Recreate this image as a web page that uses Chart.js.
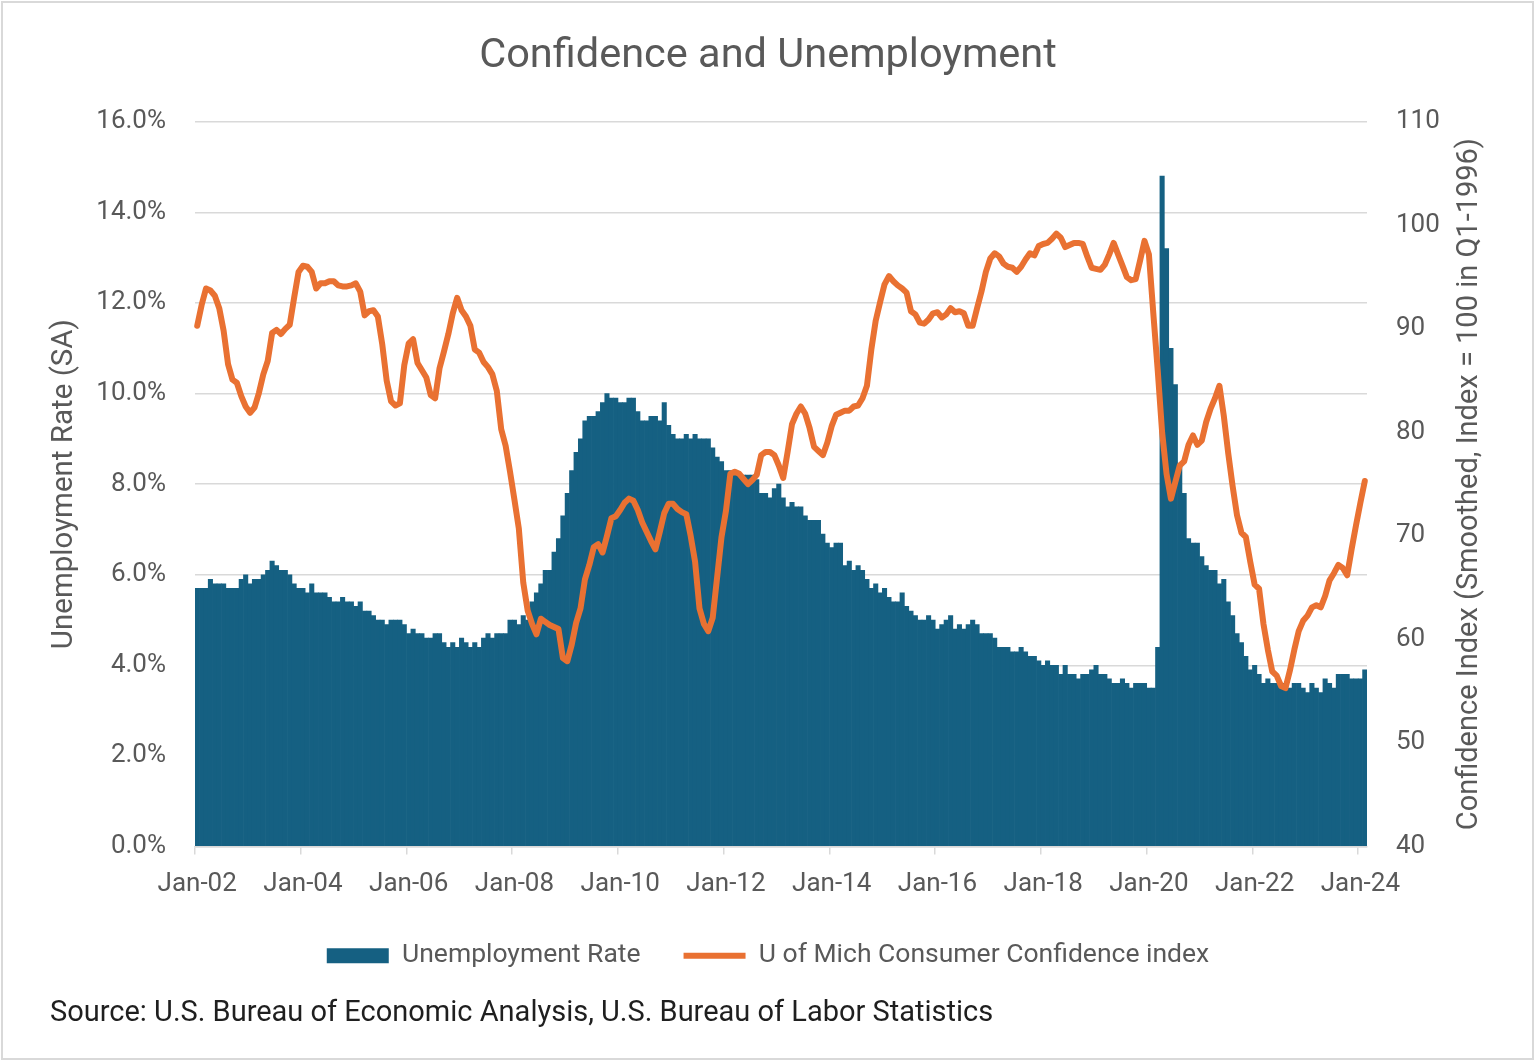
<!DOCTYPE html>
<html>
<head>
<meta charset="utf-8">
<title>Confidence and Unemployment</title>
<script src="https://cdn.jsdelivr.net/npm/chart.js@4.4.1/dist/chart.umd.min.js"></script>
<style>
  html, body { margin: 0; padding: 0; background: #fff; }
  #wrap { width: 1536px; height: 1063px; }
</style>
</head>
<body>
<div id="wrap"><canvas id="chart" width="1536" height="1063"></canvas></div>
<script>
// categories: monthly, Jan-02 .. Feb-24
const years = ['02','03','04','05','06','07','08','09','10','11','12','13',
               '14','15','16','17','18','19','20','21','22','23','24'];
const months = ['Jan','Feb','Mar','Apr','May','Jun','Jul','Aug','Sep','Oct','Nov','Dec'];

// x tick labels shown on the axis
const xTickLabels = ['Jan-02','Jan-04','Jan-06','Jan-08','Jan-10','Jan-12',
                     'Jan-14','Jan-16','Jan-18','Jan-20','Jan-22','Jan-24'];

// Unemployment rate (SA), % - one row per year
const unemployment = [
  5.7, 5.7, 5.7, 5.9, 5.8, 5.8, 5.8, 5.7, 5.7, 5.7, 5.9, 6.0,   // 2002
  5.8, 5.9, 5.9, 6.0, 6.1, 6.3, 6.2, 6.1, 6.1, 6.0, 5.8, 5.7,   // 2003
  5.7, 5.6, 5.8, 5.6, 5.6, 5.6, 5.5, 5.4, 5.4, 5.5, 5.4, 5.4,   // 2004
  5.3, 5.4, 5.2, 5.2, 5.1, 5.0, 5.0, 4.9, 5.0, 5.0, 5.0, 4.9,   // 2005
  4.7, 4.8, 4.7, 4.7, 4.6, 4.6, 4.7, 4.7, 4.5, 4.4, 4.5, 4.4,   // 2006
  4.6, 4.5, 4.4, 4.5, 4.4, 4.6, 4.7, 4.6, 4.7, 4.7, 4.7, 5.0,   // 2007
  5.0, 4.9, 5.1, 5.0, 5.4, 5.6, 5.8, 6.1, 6.1, 6.5, 6.8, 7.3,   // 2008
  7.8, 8.3, 8.7, 9.0, 9.4, 9.5, 9.5, 9.6, 9.8, 10.0, 9.9, 9.9,  // 2009
  9.8, 9.8, 9.9, 9.9, 9.6, 9.4, 9.4, 9.5, 9.5, 9.4, 9.8, 9.3,   // 2010
  9.1, 9.0, 9.0, 9.1, 9.0, 9.1, 9.0, 9.0, 9.0, 8.8, 8.6, 8.5,   // 2011
  8.3, 8.3, 8.2, 8.2, 8.2, 8.2, 8.2, 8.1, 7.8, 7.8, 7.7, 7.9,   // 2012
  8.0, 7.7, 7.5, 7.6, 7.5, 7.5, 7.3, 7.2, 7.2, 7.2, 6.9, 6.7,   // 2013
  6.6, 6.7, 6.7, 6.2, 6.3, 6.1, 6.2, 6.1, 5.9, 5.7, 5.8, 5.6,   // 2014
  5.7, 5.5, 5.4, 5.4, 5.6, 5.3, 5.2, 5.1, 5.0, 5.0, 5.1, 5.0,   // 2015
  4.8, 4.9, 5.0, 5.1, 4.8, 4.9, 4.8, 4.9, 5.0, 4.9, 4.7, 4.7,   // 2016
  4.7, 4.6, 4.4, 4.4, 4.4, 4.3, 4.3, 4.4, 4.3, 4.2, 4.2, 4.1,   // 2017
  4.0, 4.1, 4.0, 4.0, 3.8, 4.0, 3.8, 3.8, 3.7, 3.8, 3.8, 3.9,   // 2018
  4.0, 3.8, 3.8, 3.7, 3.6, 3.6, 3.7, 3.6, 3.5, 3.6, 3.6, 3.6,   // 2019
  3.5, 3.5, 4.4, 14.8, 13.2, 11.0, 10.2, 8.4, 7.8, 6.8, 6.7, 6.7, // 2020
  6.4, 6.2, 6.1, 6.1, 5.8, 5.9, 5.4, 5.1, 4.7, 4.5, 4.2, 3.9,   // 2021
  4.0, 3.8, 3.6, 3.7, 3.6, 3.6, 3.5, 3.6, 3.5, 3.6, 3.6, 3.5,   // 2022
  3.4, 3.6, 3.5, 3.4, 3.7, 3.6, 3.5, 3.8, 3.8, 3.8, 3.7, 3.7,   // 2023
  3.7, 3.9                                                      // 2024
];

// U of Mich consumer confidence, smoothed (Q1-1996 = 100)
const confidence = [
  90.3, 92.3, 93.9, 93.7, 93.2, 92.0, 89.8, 86.6, 85.1, 84.8, 83.5, 82.5,   // 2002
  81.9, 82.4, 83.8, 85.6, 86.9, 89.6, 89.9, 89.5, 90.0, 90.4, 93.0, 95.5,   // 2003
  96.1, 96.0, 95.5, 93.9, 94.4, 94.4, 94.6, 94.6, 94.2, 94.1, 94.1, 94.2,   // 2004
  94.4, 93.6, 91.3, 91.7, 91.8, 91.2, 88.5, 85.0, 83.0, 82.6, 82.8, 86.5,   // 2005
  88.6, 89.0, 86.7, 86.0, 85.3, 83.6, 83.3, 86.2, 87.8, 89.5, 91.5, 93.0,   // 2006
  91.8, 91.2, 90.3, 88.0, 87.7, 86.8, 86.3, 85.6, 84.0, 80.3, 78.7, 76.2,   // 2007
  73.5, 70.7, 65.5, 62.8, 61.5, 60.5, 62.0, 61.7, 61.4, 61.2, 61.0, 58.2,   // 2008
  57.9, 59.5, 61.6, 63.0, 65.8, 67.2, 68.9, 69.2, 68.4, 70.0, 71.7, 71.9,   // 2009
  72.5, 73.2, 73.6, 73.4, 72.5, 71.3, 70.4, 69.5, 68.7, 70.4, 72.2, 73.1,   // 2010
  73.1, 72.6, 72.3, 72.1, 70.0, 67.5, 63.0, 61.5, 60.8, 62.1, 66.0, 69.9,   // 2011
  72.4, 76.0, 76.2, 76.0, 75.5, 75.0, 75.4, 75.9, 77.8, 78.1, 78.1, 77.8,   // 2012
  76.8, 75.6, 78.1, 80.8, 81.8, 82.5, 81.8, 80.4, 78.6, 78.2, 77.8, 79.0,   // 2013
  80.6, 81.7, 81.9, 82.1, 82.1, 82.5, 82.6, 83.3, 84.5, 88.0, 90.8, 92.6,   // 2014
  94.3, 95.1, 94.6, 94.2, 93.9, 93.5, 91.7, 91.4, 90.6, 90.5, 90.9, 91.5,   // 2015
  91.6, 91.1, 91.4, 92.0, 91.6, 91.7, 91.5, 90.3, 90.3, 92.0, 93.6, 95.5,   // 2016
  96.8, 97.3, 97.0, 96.3, 96.0, 95.9, 95.5, 96.0, 96.7, 97.3, 97.1, 98.0,   // 2017
  98.2, 98.3, 98.7, 99.2, 98.8, 97.9, 98.1, 98.3, 98.3, 98.2, 97.0, 95.9,   // 2018
  95.8, 95.7, 96.2, 97.2, 98.3, 97.2, 96.1, 95.0, 94.7, 94.8, 96.6, 98.5,   // 2019
  97.2, 91.5, 86.0, 80.0, 76.0, 73.6, 75.2, 76.8, 77.2, 78.8, 79.7, 78.8,   // 2020
  79.2, 81.0, 82.3, 83.3, 84.5, 81.6, 78.0, 74.8, 72.0, 70.3, 69.9, 67.5,   // 2021
  65.3, 64.9, 61.5, 59.0, 56.9, 56.5, 55.5, 55.3, 57.0, 59.0, 60.8, 61.8,   // 2022
  62.3, 63.1, 63.3, 63.1, 64.2, 65.7, 66.4, 67.2, 66.9, 66.2, 68.7, 71.0,   // 2023
  73.2, 75.3                                                                  // 2024
];

const labels = [];
years.forEach(y => months.forEach(m => {
  if (labels.length < unemployment.length) labels.push(m + '-' + y);
}));

const textColor = '#595959';
const gridColor = '#d9d9d9';
const rightTitle = 'Confidence Index (Smoothed, Index = 100 in Q1-1996)';
const sourceText = 'Source: U.S. Bureau of Economic Analysis, U.S. Bureau of Labor Statistics';

Chart.defaults.font.family = 'Roboto, "Open Sans", sans-serif';
Chart.defaults.color = textColor;

// frame, rotated right-axis title and source line
const extras = {
  id: 'extras',
  beforeDraw(chart) {
    const c = chart.ctx;
    c.save();
    c.fillStyle = '#fff';
    c.fillRect(0, 0, chart.width, chart.height);
    c.strokeStyle = gridColor;
    c.lineWidth = 2;
    c.strokeRect(2, 2, chart.width - 5, chart.height - 6);
    c.restore();
  },
  afterDraw(chart) {
    const c = chart.ctx;
    const area = chart.chartArea;
    c.save();
    c.fillStyle = textColor;
    c.font = '29px Roboto, "Open Sans", sans-serif';
    c.textAlign = 'center';
    c.textBaseline = 'middle';
    c.translate(1470, (area.top + area.bottom) / 2);
    c.rotate(-Math.PI / 2);
    c.fillText(rightTitle, 0, 0);
    c.restore();

    c.save();
    c.fillStyle = '#1f1f1f';
    c.font = '29px Roboto, "Open Sans", sans-serif';
    c.textAlign = 'left';
    c.textBaseline = 'middle';
    c.fillText(sourceText, 50, 1014);
    c.restore();
  }
};

const ctx = document.getElementById('chart').getContext('2d');
const chart = new Chart(ctx, {
  type: 'bar',
  data: {
    labels: labels,
    datasets: [
      {
        type: 'bar',
        label: 'Unemployment Rate',
        data: unemployment,
        backgroundColor: '#156082',
        borderWidth: 0,
        categoryPercentage: 1.0,
        barPercentage: 1.0,
        yAxisID: 'y',
        order: 2
      },
      {
        type: 'line',
        label: 'U of Mich Consumer Confidence index',
        data: confidence,
        borderColor: '#E97132',
        backgroundColor: '#E97132',
        borderWidth: 6,
        borderJoinStyle: 'round',
        borderCapStyle: 'round',
        pointRadius: 0,
        tension: 0,
        yAxisID: 'y1',
        order: 1
      }
    ]
  },
  options: {
    responsive: false,
    animation: false,
    devicePixelRatio: 1,
    layout: { padding: { top: 0, left: 0, right: 0, bottom: 84 } },
    scales: {
      x: {
        offset: true,
        grid: {
          offset: true,
          drawOnChartArea: false,
          drawTicks: true,
          tickLength: 8,
          lineWidth: 1.5,
          color: (c) => (xTickLabels.includes(labels[c.index]) ? gridColor : 'rgba(0,0,0,0)')
        },
        border: { display: true, color: gridColor, width: 1.5 },
        ticks: {
          autoSkip: false,
          maxRotation: 0,
          minRotation: 0,
          padding: 14,
          color: textColor,
          font: { size: 26 },
          callback: function (value) {
            const lab = this.getLabelForValue(value);
            return xTickLabels.includes(lab) ? lab : '';
          }
        },
        afterFit: (s) => { s.height = 53; }
      },
      y: {
        position: 'left',
        min: 0,
        max: 16,
        grid: { color: gridColor, lineWidth: 1.5, drawTicks: false },
        border: { display: false },
        ticks: {
          stepSize: 2,
          padding: 29,
          color: textColor,
          font: { size: 26 },
          callback: (v) => v.toFixed(1) + '%'
        },
        title: {
          display: true,
          text: 'Unemployment Rate (SA)',
          color: textColor,
          font: { size: 29.5 },
          padding: { top: 47, bottom: 0 }
        },
        afterFit: (s) => { s.width = 195; }
      },
      y1: {
        position: 'right',
        min: 40,
        max: 110,
        grid: { drawOnChartArea: false, drawTicks: false },
        border: { display: false },
        ticks: {
          stepSize: 10,
          padding: 29,
          color: textColor,
          font: { size: 26 }
        },
        afterFit: (s) => { s.width = 169; }
      }
    },
    plugins: {
      title: {
        display: true,
        text: 'Confidence and Unemployment',
        color: textColor,
        font: { size: 41.5, weight: 'normal' },
        padding: { top: 32, bottom: 40 }
      },
      legend: {
        position: 'bottom',
        labels: {
          usePointStyle: true,
          pointStyleWidth: 62,
          boxHeight: 15,
          padding: 43,
          color: textColor,
          font: { size: 26.5 },
          sort: (a, b) => a.datasetIndex - b.datasetIndex,
          generateLabels(chart) {
            const items = Chart.defaults.plugins.legend.labels.generateLabels(chart);
            items.forEach(it => { it.pointStyle = it.datasetIndex === 0 ? 'rect' : 'line'; });
            return items;
          }
        }
      },
      tooltip: { enabled: false }
    }
  },
  plugins: [extras]
});
</script>
</body>
</html>
